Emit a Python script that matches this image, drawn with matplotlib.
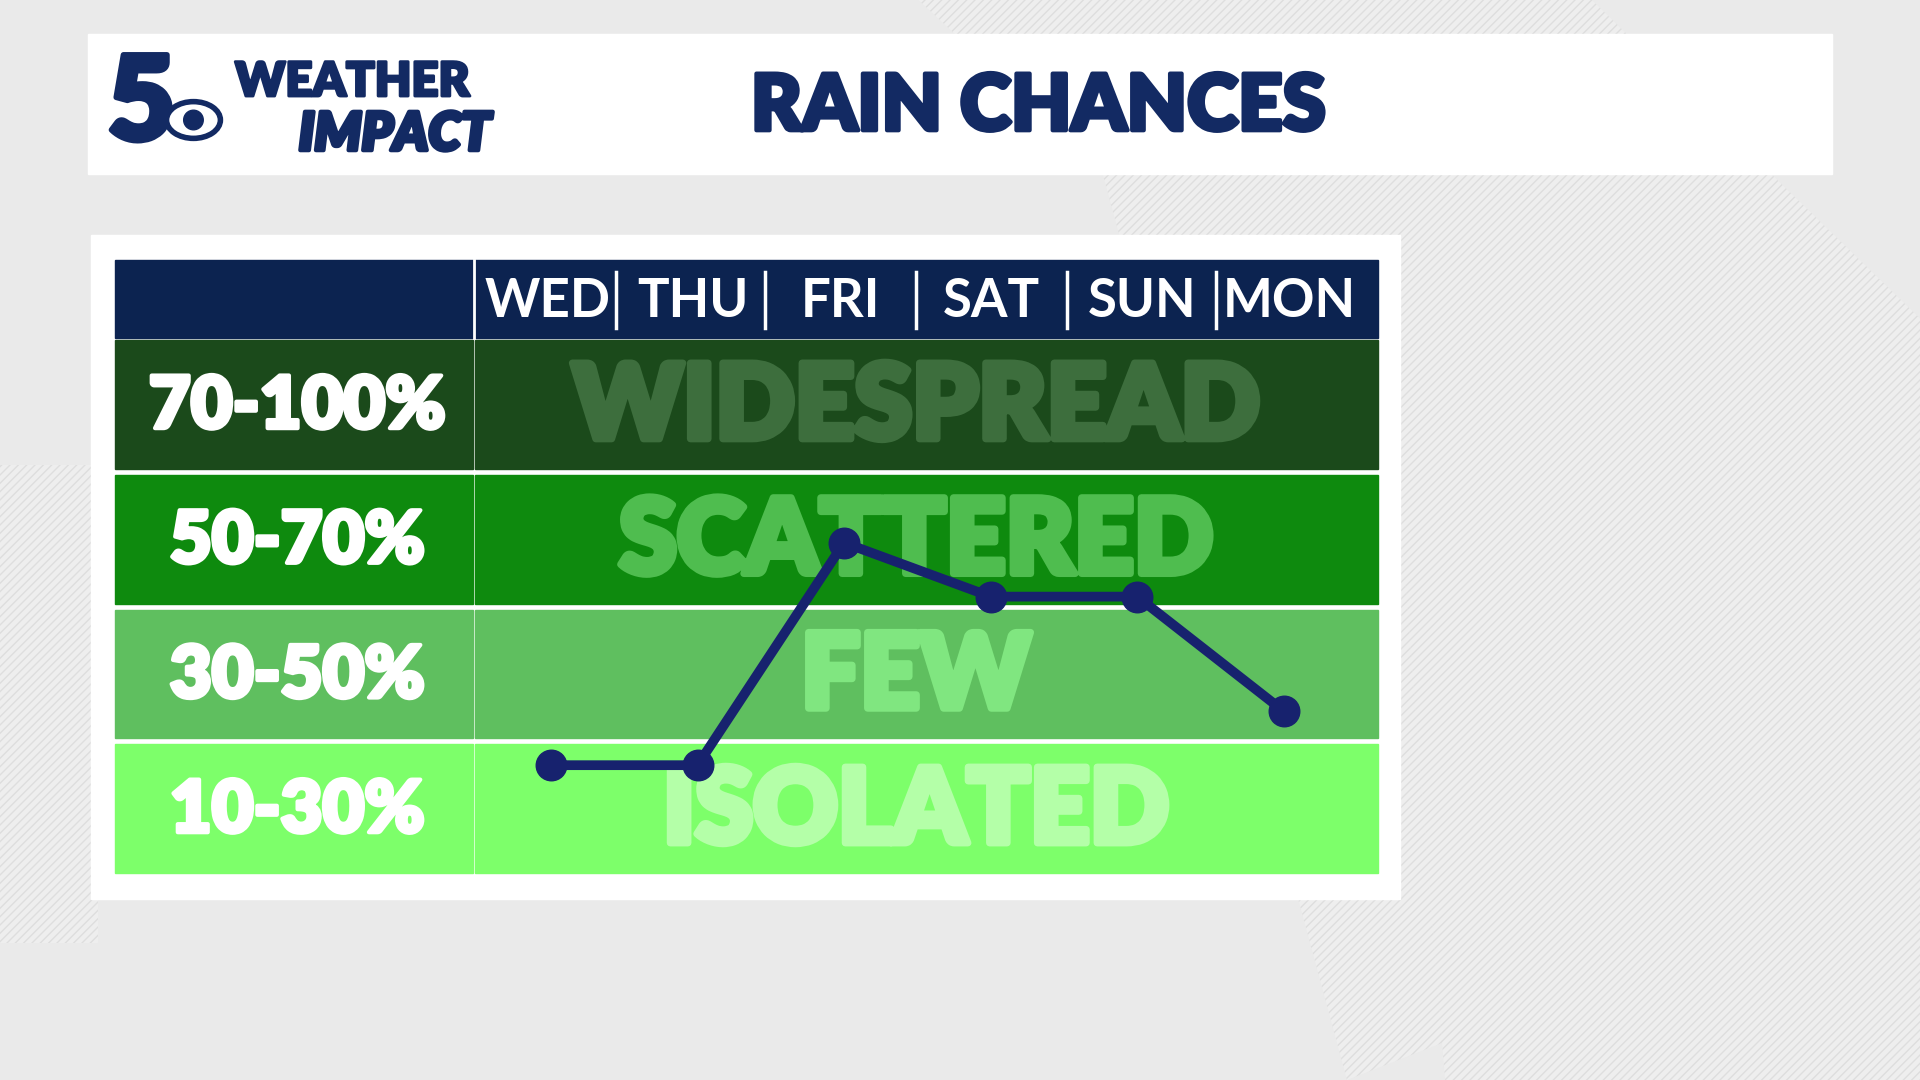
import matplotlib
matplotlib.use("Agg")
import matplotlib.pyplot as plt
import matplotlib.patheffects as pe
import numpy as np
from matplotlib.patches import Rectangle, Polygon, Ellipse

days = ["WED", "THU", "FRI", "SAT", "SUN", "MON"]
rain_pct = [26, 26, 59, 51, 51, 34]
band_labels = ["70-100%", "50-70%", "30-50%", "10-30%"]
band_words = ["WIDESPREAD", "SCATTERED", "FEW", "ISOLATED"]
band_colors = ["#1b4a1b", "#0e8a0e", "#5fbf5f", "#7dff6a"]
band_word_colors = ["#3d6e3d", "#4fbd4f", "#80e680", "#b4ffa8"]
band_edges = [10, 30, 50, 70, 100]

plt.rcParams['font.family'] = ['Lato', 'DejaVu Sans']

def heavy(color, w=3):
    return [pe.withStroke(linewidth=w, foreground=color)]

W, H = 1568, 882
fig = plt.figure(figsize=(19.2, 10.8), dpi=100)
bg = fig.add_axes([0, 0, 1, 1])
bg.set_xlim(0, W); bg.set_ylim(H, 0); bg.axis('off')
bg.add_patch(Rectangle((0, 0), W, H, color="#eaeaea", zorder=0))
for poly in [[(750, 0), (1300, 0), (1568, 260), (1568, 700), (1100, 882), (900, 140)],
             [(0, 380), (80, 380), (80, 770), (0, 770)],
             [(1140, 380), (1568, 380), (1568, 882), (1180, 882)]]:
    bg.add_patch(Polygon(poly, facecolor="#eeeeee", edgecolor="#dedede", hatch="////", lw=0, zorder=1))
# header
bg.add_patch(Rectangle((72, 28), 1424, 114, color="white", zorder=2))
navy = "#132a63"
bg.text(848, 88, "RAIN CHANCES", color=navy, fontsize=56, fontweight='heavy', ha='center', va='center',
        zorder=3, path_effects=heavy(navy, 3))
bg.text(88, 86, "5", color=navy, fontsize=84, fontweight='heavy', ha='left', va='center', zorder=3,
        path_effects=heavy(navy, 4))
bg.add_patch(Ellipse((158, 98), 44, 30, facecolor="white", edgecolor=navy, lw=4, zorder=4))
bg.add_patch(Ellipse((158, 98), 16, 16, color=navy, zorder=5))
bg.text(192, 67, "WEATHER", color=navy, fontsize=34, fontweight='heavy', ha='left', va='center', zorder=3,
        path_effects=heavy(navy, 2))
bg.text(244, 110, "IMPACT", color=navy, fontsize=38, fontweight='heavy', style='italic', ha='left',
        va='center', zorder=3, path_effects=heavy(navy, 3))
# panel
bg.add_patch(Rectangle((74, 192), 1069, 542, color="white", zorder=2))
bg.add_patch(Rectangle((94, 212), 1031, 64, color="#0c2350", zorder=3))
bg.plot([387, 387], [212, 276], color="white", lw=2, zorder=4)
xl, xr = 388, 1125
top = [278, 388, 498, 608]
for i in range(4):
    y0 = top[i]; h = 105
    bg.add_patch(Rectangle((94, y0), 292, h, color=band_colors[i], zorder=3))
    bg.add_patch(Rectangle((xl, y0), xr - xl, h, color=band_colors[i], zorder=3))
    bg.text(243, y0 + h / 2 + 2, band_labels[i], color="white", fontsize=52, fontweight='heavy',
            ha='center', va='center', zorder=4, path_effects=heavy("white", 3))
    bg.text(748, y0 + h / 2 + 3, band_words[i], color=band_word_colors[i], fontsize=75,
            fontweight='heavy', ha='center', va='center', zorder=4,
            path_effects=heavy(band_word_colors[i], 5))
dx = [447, 566, 686, 810, 933, 1053]
for d, x in zip(days, dx):
    bg.text(x, 246, d, color="white", fontsize=38, fontweight='bold', ha='center', va='center', zorder=4)
for x in [503, 625, 748, 871, 993]:
    bg.plot([x, x], [222, 268], color="white", lw=2.5, zorder=4)

# line chart axes over table body
ax = fig.add_axes([388 / W, 1 - 713 / H, (1125 - 388) / W, (713 - 278) / H])
ax.set_xlim(-0.518, 5.64)
ax.set_ylim(0, 3.95)
ax.axis('off')
yv = np.interp(rain_pct, band_edges, [0, 1, 2, 3, 4])
ax.plot(range(len(days)), yv, color="#17226e", lw=7, marker='o', markersize=22, zorder=5)
fig.savefig("out.png", dpi=100)
